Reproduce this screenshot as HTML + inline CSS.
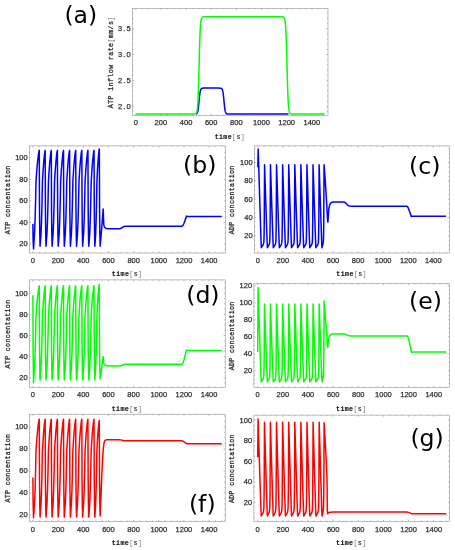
<!DOCTYPE html>
<html><head><meta charset="utf-8"><title>ATP / ADP concentration</title>
<style>html,body{margin:0;padding:0;background:#fff}svg{display:block}</style>
</head><body>
<svg width="455" height="550" viewBox="0 0 455 550">
<rect width="455" height="550" fill="#fff"/>
<g>
<clipPath id="clipa"><rect x="132.4" y="8.3" width="195.6" height="107.1"/></clipPath>
<path d="M195.93 113.92 L196.31 113.80 L196.62 113.62 L196.88 113.40 L197.13 113.07 L197.32 112.73 L197.50 112.27 L197.69 111.68 L197.88 110.91 L198.20 109.16 L198.51 106.75 L199.52 96.54 L199.96 92.99 L200.21 91.54 L200.52 90.26 L200.84 89.42 L201.03 89.08 L201.22 88.82 L201.53 88.53 L201.97 88.30 L202.47 88.18 L203.23 88.12 L205.18 88.09 L217.82 88.09 L220.09 88.13 L220.72 88.20 L221.16 88.33 L221.53 88.53 L221.85 88.82 L222.16 89.30 L222.41 89.88 L222.66 90.71 L222.85 91.54 L223.11 92.99 L223.29 94.36 L223.61 97.14 L224.49 106.19 L224.80 108.73 L225.06 110.28 L225.24 111.18 L225.43 111.89 L225.62 112.44 L225.81 112.85 L226.00 113.17 L226.25 113.46 L226.56 113.70 L226.88 113.85 L227.32 113.96 L227.82 114.01 L229.65 114.06 L288.52 114.06" fill="none" stroke="#0000ff" stroke-width="1.5" stroke-linejoin="round" stroke-linecap="butt" clip-path="url(#clipa)"/>
<path d="M135.80 114.06 L193.35 114.05 L194.49 114.01 L195.18 113.91 L195.68 113.71 L195.93 113.53 L196.12 113.34 L196.44 112.85 L196.75 112.04 L197.00 111.03 L197.19 109.97 L197.38 108.55 L197.57 106.68 L197.76 104.25 L197.95 101.13 L198.26 94.10 L198.51 86.69 L199.52 48.45 L199.96 35.16 L200.21 29.73 L200.52 24.92 L200.71 22.88 L200.90 21.32 L201.09 20.15 L201.28 19.28 L201.47 18.62 L201.66 18.14 L201.85 17.79 L202.10 17.45 L202.35 17.23 L202.66 17.06 L202.98 16.95 L203.42 16.87 L204.17 16.82 L205.49 16.80 L221.28 16.80 L280.91 16.81 L282.11 16.84 L282.86 16.93 L283.36 17.09 L283.62 17.24 L283.80 17.39 L283.99 17.60 L284.18 17.87 L284.50 18.55 L284.75 19.39 L285.00 20.61 L285.19 21.87 L285.38 23.53 L285.56 25.66 L285.75 28.39 L286.07 34.54 L286.38 42.96 L286.70 53.52 L287.51 83.91 L287.77 91.55 L288.02 97.72 L288.33 103.45 L288.52 105.97 L288.71 107.94 L288.90 109.45 L289.09 110.60 L289.34 111.71 L289.59 112.47 L289.78 112.88 L289.97 113.18 L290.22 113.47 L290.47 113.66 L290.79 113.82 L291.10 113.91 L291.54 113.99 L292.11 114.03 L294.56 114.06 L324.50 114.06" fill="none" stroke="#00ff00" stroke-width="1.5" stroke-linejoin="round" stroke-linecap="butt" clip-path="url(#clipa)"/>
<rect x="132.4" y="8.3" width="195.6" height="107.1" fill="none" stroke="#8a8a8a" stroke-width="0.55"/>
<path d="M135.80 115.4v-1.6M135.80 8.3v1.6M142.09 115.4v-0.9M142.09 8.3v0.9M148.38 115.4v-0.9M148.38 8.3v0.9M154.67 115.4v-0.9M154.67 8.3v0.9M160.96 115.4v-1.6M160.96 8.3v1.6M167.25 115.4v-0.9M167.25 8.3v0.9M173.54 115.4v-0.9M173.54 8.3v0.9M179.83 115.4v-0.9M179.83 8.3v0.9M186.12 115.4v-1.6M186.12 8.3v1.6M192.41 115.4v-0.9M192.41 8.3v0.9M198.70 115.4v-0.9M198.70 8.3v0.9M204.99 115.4v-0.9M204.99 8.3v0.9M211.28 115.4v-1.6M211.28 8.3v1.6M217.57 115.4v-0.9M217.57 8.3v0.9M223.86 115.4v-0.9M223.86 8.3v0.9M230.15 115.4v-0.9M230.15 8.3v0.9M236.44 115.4v-1.6M236.44 8.3v1.6M242.73 115.4v-0.9M242.73 8.3v0.9M249.02 115.4v-0.9M249.02 8.3v0.9M255.31 115.4v-0.9M255.31 8.3v0.9M261.60 115.4v-1.6M261.60 8.3v1.6M267.89 115.4v-0.9M267.89 8.3v0.9M274.18 115.4v-0.9M274.18 8.3v0.9M280.47 115.4v-0.9M280.47 8.3v0.9M286.76 115.4v-1.6M286.76 8.3v1.6M293.05 115.4v-0.9M293.05 8.3v0.9M299.34 115.4v-0.9M299.34 8.3v0.9M305.63 115.4v-0.9M305.63 8.3v0.9M311.92 115.4v-1.6M311.92 8.3v1.6M318.21 115.4v-0.9M318.21 8.3v0.9M324.50 115.4v-0.9M324.50 8.3v0.9M132.4 111.47h0.9M328.0 111.47h-0.9M132.4 106.30h1.6M328.0 106.30h-1.6M132.4 101.13h0.9M328.0 101.13h-0.9M132.4 95.95h0.9M328.0 95.95h-0.9M132.4 90.78h0.9M328.0 90.78h-0.9M132.4 85.61h0.9M328.0 85.61h-0.9M132.4 80.43h1.6M328.0 80.43h-1.6M132.4 75.26h0.9M328.0 75.26h-0.9M132.4 70.09h0.9M328.0 70.09h-0.9M132.4 64.91h0.9M328.0 64.91h-0.9M132.4 59.74h0.9M328.0 59.74h-0.9M132.4 54.57h1.6M328.0 54.57h-1.6M132.4 49.39h0.9M328.0 49.39h-0.9M132.4 44.22h0.9M328.0 44.22h-0.9M132.4 39.05h0.9M328.0 39.05h-0.9M132.4 33.87h0.9M328.0 33.87h-0.9M132.4 28.70h1.6M328.0 28.70h-1.6M132.4 23.53h0.9M328.0 23.53h-0.9M132.4 18.35h0.9M328.0 18.35h-0.9M132.4 13.18h0.9M328.0 13.18h-0.9" stroke="#8a8a8a" stroke-width="0.6" fill="none"/>
<text x="135.78" y="125.20" text-anchor="middle" font-family="'Liberation Sans', sans-serif" font-size="7.5" fill="#303030" stroke="#303030" stroke-width="0.25">0</text>
<text x="156.69 160.89 165.09" y="125.20" text-anchor="middle" font-family="'Liberation Sans', sans-serif" font-size="7.5" fill="#303030" stroke="#303030" stroke-width="0.25">200</text>
<text x="181.84 186.05 190.25" y="125.20" text-anchor="middle" font-family="'Liberation Sans', sans-serif" font-size="7.5" fill="#303030" stroke="#303030" stroke-width="0.25">400</text>
<text x="207.01 211.21 215.41" y="125.20" text-anchor="middle" font-family="'Liberation Sans', sans-serif" font-size="7.5" fill="#303030" stroke="#303030" stroke-width="0.25">600</text>
<text x="232.16 236.37 240.56" y="125.20" text-anchor="middle" font-family="'Liberation Sans', sans-serif" font-size="7.5" fill="#303030" stroke="#303030" stroke-width="0.25">800</text>
<text x="255.20 259.40 263.60 267.80" y="125.20" text-anchor="middle" font-family="'Liberation Sans', sans-serif" font-size="7.5" fill="#303030" stroke="#303030" stroke-width="0.25">1000</text>
<text x="280.36 284.56 288.76 292.96" y="125.20" text-anchor="middle" font-family="'Liberation Sans', sans-serif" font-size="7.5" fill="#303030" stroke="#303030" stroke-width="0.25">1200</text>
<text x="305.52 309.72 313.92 318.12" y="125.20" text-anchor="middle" font-family="'Liberation Sans', sans-serif" font-size="7.5" fill="#303030" stroke="#303030" stroke-width="0.25">1400</text>
<text x="120.10 124.30 128.50" y="108.70" text-anchor="middle" font-family="'Liberation Sans', sans-serif" font-size="7.5" fill="#303030" stroke="#303030" stroke-width="0.25">2.0</text>
<text x="120.10 124.30 128.50" y="82.83" text-anchor="middle" font-family="'Liberation Sans', sans-serif" font-size="7.5" fill="#303030" stroke="#303030" stroke-width="0.25">2.5</text>
<text x="120.10 124.30 128.50" y="56.97" text-anchor="middle" font-family="'Liberation Sans', sans-serif" font-size="7.5" fill="#303030" stroke="#303030" stroke-width="0.25">3.0</text>
<text x="120.10 124.30 128.50" y="31.10" text-anchor="middle" font-family="'Liberation Sans', sans-serif" font-size="7.5" fill="#303030" stroke="#303030" stroke-width="0.25">3.5</text>
<text x="229.9" y="139.3" text-anchor="middle" font-family="'Liberation Mono', monospace" font-size="6.6" letter-spacing="0.4" fill="#222"><tspan font-weight="bold" stroke="#222" stroke-width="0.15">time</tspan><tspan fill="#777">[</tspan><tspan fill="#222" stroke="#222" stroke-width="0.15">s</tspan><tspan fill="#777">]</tspan></text>
<text transform="translate(113.2 62.2) rotate(-90)" text-anchor="middle" font-family="'Liberation Mono', monospace" font-size="6.6" letter-spacing="0.42" fill="#303030" stroke="#303030" stroke-width="0.3">ATP inflow rate<tspan fill="#777" stroke="none">[</tspan>mm/s<tspan fill="#777" stroke="none">]</tspan></text>
<text x="64.4" y="22.5" font-family="'DejaVu Sans', 'Liberation Sans', sans-serif" font-size="23.6" fill="#000">(a)</text>
</g>
<g>
<clipPath id="clipb"><rect x="29.5" y="145.9" width="195.8" height="107.1"/></clipPath>
<path d="M32.90 223.87 L33.09 238.92 L33.53 248.95 L34.47 234.06 L35.04 221.14 L35.54 203.04 L35.99 181.58 L36.80 170.28 L37.62 161.13 L38.44 154.35 L39.01 151.09 L39.26 150.37 L39.51 210.14 L39.76 232.70 L40.08 246.15 L40.96 234.45 L41.53 221.03 L41.97 204.45 L42.41 182.41 L42.47 180.81 L43.10 170.48 L43.79 161.24 L44.49 154.39 L44.93 151.34 L44.99 151.01 L45.18 150.37 L45.43 210.14 L45.68 232.70 L46.00 246.15 L46.94 233.85 L47.51 220.82 L48.01 202.13 L48.45 181.22 L49.15 170.26 L49.84 161.39 L50.59 154.21 L51.03 151.28 L51.29 150.37 L51.54 210.14 L51.79 232.70 L52.10 246.15 L53.05 233.85 L53.62 220.82 L54.12 202.13 L54.56 181.22 L55.25 170.26 L55.95 161.39 L56.70 154.21 L57.14 151.28 L57.39 150.37 L57.65 210.14 L57.90 232.70 L58.21 246.15 L59.16 233.85 L59.72 220.82 L60.23 202.13 L60.67 181.22 L61.36 170.26 L62.05 161.39 L62.81 154.21 L63.25 151.28 L63.50 150.37 L63.75 210.14 L64.01 232.70 L64.32 246.15 L65.26 233.85 L65.83 220.82 L66.34 202.13 L66.78 181.22 L67.47 170.26 L68.16 161.39 L68.92 154.21 L69.36 151.28 L69.61 150.37 L69.86 210.14 L70.11 232.70 L70.43 246.15 L71.37 233.85 L71.94 220.82 L72.44 202.13 L72.88 181.22 L73.58 170.26 L74.27 161.39 L75.02 154.21 L75.47 151.28 L75.72 150.37 L75.97 210.14 L76.22 232.70 L76.54 246.15 L77.48 233.85 L78.05 220.82 L78.55 202.13 L78.99 181.22 L79.68 170.26 L80.38 161.39 L81.13 154.21 L81.57 151.28 L81.83 150.37 L82.08 210.14 L82.33 232.70 L82.64 246.15 L83.59 233.85 L84.15 220.82 L84.66 202.13 L85.10 181.22 L85.79 170.26 L86.48 161.39 L87.24 154.21 L87.68 151.28 L87.93 150.37 L88.18 210.14 L88.44 232.70 L88.75 246.15 L89.70 233.85 L90.26 220.82 L90.77 202.13 L91.21 181.22 L91.90 170.26 L92.59 161.39 L93.35 154.21 L93.79 151.28 L94.04 150.37 L94.29 210.14 L94.54 232.70 L94.86 246.15 L95.61 234.71 L96.12 221.31 L96.56 202.30 L96.94 181.16 L97.50 170.07 L98.13 160.09 L98.76 152.82 L99.14 149.74 L99.33 148.97 L99.58 209.56 L99.83 232.16 L100.15 246.15 L101.53 230.55 L103.17 209.09 L103.23 209.37 L103.30 210.74 L103.49 217.84 L103.74 223.71 L103.80 224.43 L104.18 226.38 L104.24 226.56 L104.93 227.73 L106.13 228.46 L106.26 228.51 L108.46 228.72 L119.04 228.72 L119.67 228.67 L120.36 228.52 L120.93 228.28 L121.43 228.00 L122.82 227.10 L123.38 226.80 L123.89 226.58 L124.39 226.41 L124.89 226.28 L125.46 226.19 L126.09 226.14 L181.82 226.13 L182.07 226.08 L182.26 225.99 L182.45 225.86 L182.70 225.62 L183.14 225.02 L183.64 224.07 L184.08 222.99 L186.41 216.62 L186.48 216.06 L186.79 216.24 L187.23 216.36 L187.80 216.42 L188.62 216.44 L221.80 216.45" fill="none" stroke="#0000ff" stroke-width="1.5" stroke-linejoin="round" stroke-linecap="butt" clip-path="url(#clipb)"/>
<rect x="29.5" y="145.9" width="195.8" height="107.1" fill="none" stroke="#8a8a8a" stroke-width="0.55"/>
<path d="M32.90 253.0v-1.6M32.90 145.9v1.6M39.20 253.0v-0.9M39.20 145.9v0.9M45.49 253.0v-0.9M45.49 145.9v0.9M51.79 253.0v-0.9M51.79 145.9v0.9M58.09 253.0v-1.6M58.09 145.9v1.6M64.38 253.0v-0.9M64.38 145.9v0.9M70.68 253.0v-0.9M70.68 145.9v0.9M76.98 253.0v-0.9M76.98 145.9v0.9M83.27 253.0v-1.6M83.27 145.9v1.6M89.57 253.0v-0.9M89.57 145.9v0.9M95.87 253.0v-0.9M95.87 145.9v0.9M102.16 253.0v-0.9M102.16 145.9v0.9M108.46 253.0v-1.6M108.46 145.9v1.6M114.76 253.0v-0.9M114.76 145.9v0.9M121.05 253.0v-0.9M121.05 145.9v0.9M127.35 253.0v-0.9M127.35 145.9v0.9M133.65 253.0v-1.6M133.65 145.9v1.6M139.94 253.0v-0.9M139.94 145.9v0.9M146.24 253.0v-0.9M146.24 145.9v0.9M152.54 253.0v-0.9M152.54 145.9v0.9M158.83 253.0v-1.6M158.83 145.9v1.6M165.13 253.0v-0.9M165.13 145.9v0.9M171.43 253.0v-0.9M171.43 145.9v0.9M177.72 253.0v-0.9M177.72 145.9v0.9M184.02 253.0v-1.6M184.02 145.9v1.6M190.32 253.0v-0.9M190.32 145.9v0.9M196.61 253.0v-0.9M196.61 145.9v0.9M202.91 253.0v-0.9M202.91 145.9v0.9M209.21 253.0v-1.6M209.21 145.9v1.6M215.50 253.0v-0.9M215.50 145.9v0.9M221.80 253.0v-0.9M221.80 145.9v0.9M29.5 249.38h0.9M225.3 249.38h-0.9M29.5 244.00h1.6M225.3 244.00h-1.6M29.5 238.62h0.9M225.3 238.62h-0.9M29.5 233.24h0.9M225.3 233.24h-0.9M29.5 227.86h0.9M225.3 227.86h-0.9M29.5 222.47h1.6M225.3 222.47h-1.6M29.5 217.09h0.9M225.3 217.09h-0.9M29.5 211.71h0.9M225.3 211.71h-0.9M29.5 206.33h0.9M225.3 206.33h-0.9M29.5 200.95h1.6M225.3 200.95h-1.6M29.5 195.57h0.9M225.3 195.57h-0.9M29.5 190.19h0.9M225.3 190.19h-0.9M29.5 184.81h0.9M225.3 184.81h-0.9M29.5 179.43h1.6M225.3 179.43h-1.6M29.5 174.04h0.9M225.3 174.04h-0.9M29.5 168.66h0.9M225.3 168.66h-0.9M29.5 163.28h0.9M225.3 163.28h-0.9M29.5 157.90h1.6M225.3 157.90h-1.6M29.5 152.52h0.9M225.3 152.52h-0.9M29.5 147.14h0.9M225.3 147.14h-0.9" stroke="#8a8a8a" stroke-width="0.6" fill="none"/>
<text x="32.90" y="262.9" text-anchor="middle" font-family="'Liberation Sans', sans-serif" font-size="7.5" fill="#303030" stroke="#303030" stroke-width="0.25">0</text>
<text x="58.09" y="262.9" text-anchor="middle" font-family="'Liberation Sans', sans-serif" font-size="7.5" fill="#303030" stroke="#303030" stroke-width="0.25">200</text>
<text x="83.27" y="262.9" text-anchor="middle" font-family="'Liberation Sans', sans-serif" font-size="7.5" fill="#303030" stroke="#303030" stroke-width="0.25">400</text>
<text x="108.46" y="262.9" text-anchor="middle" font-family="'Liberation Sans', sans-serif" font-size="7.5" fill="#303030" stroke="#303030" stroke-width="0.25">600</text>
<text x="133.65" y="262.9" text-anchor="middle" font-family="'Liberation Sans', sans-serif" font-size="7.5" fill="#303030" stroke="#303030" stroke-width="0.25">800</text>
<text x="158.83" y="262.9" text-anchor="middle" font-family="'Liberation Sans', sans-serif" font-size="7.5" fill="#303030" stroke="#303030" stroke-width="0.25">1000</text>
<text x="184.02" y="262.9" text-anchor="middle" font-family="'Liberation Sans', sans-serif" font-size="7.5" fill="#303030" stroke="#303030" stroke-width="0.25">1200</text>
<text x="209.21" y="262.9" text-anchor="middle" font-family="'Liberation Sans', sans-serif" font-size="7.5" fill="#303030" stroke="#303030" stroke-width="0.25">1400</text>
<text x="27.7" y="246.40" text-anchor="end" font-family="'Liberation Sans', sans-serif" font-size="7.5" fill="#303030" stroke="#303030" stroke-width="0.25">20</text>
<text x="27.7" y="224.88" text-anchor="end" font-family="'Liberation Sans', sans-serif" font-size="7.5" fill="#303030" stroke="#303030" stroke-width="0.25">40</text>
<text x="27.7" y="203.35" text-anchor="end" font-family="'Liberation Sans', sans-serif" font-size="7.5" fill="#303030" stroke="#303030" stroke-width="0.25">60</text>
<text x="27.7" y="181.83" text-anchor="end" font-family="'Liberation Sans', sans-serif" font-size="7.5" fill="#303030" stroke="#303030" stroke-width="0.25">80</text>
<text x="27.7" y="160.30" text-anchor="end" font-family="'Liberation Sans', sans-serif" font-size="7.5" fill="#303030" stroke="#303030" stroke-width="0.25">100</text>
<text x="127.1" y="276.0" text-anchor="middle" font-family="'Liberation Mono', monospace" font-size="6.6" letter-spacing="0.4" fill="#222"><tspan font-weight="bold" stroke="#222" stroke-width="0.15">time</tspan><tspan fill="#777">[</tspan><tspan fill="#222" stroke="#222" stroke-width="0.15">s</tspan><tspan fill="#777">]</tspan></text>
<text transform="translate(10.1 199.8) rotate(-90)" text-anchor="middle" font-family="'Liberation Mono', monospace" font-size="6.6" letter-spacing="0.35" fill="#303030" stroke="#303030" stroke-width="0.3">ATP concentation</text>
<text x="183.1" y="172.7" font-family="'DejaVu Sans', 'Liberation Sans', sans-serif" font-size="23.6" fill="#000">(b)</text>
</g>
<g>
<clipPath id="clipc"><rect x="254.4" y="145.9" width="195.0" height="107.1"/></clipPath>
<path d="M257.80 167.17 L258.18 148.88 L260.25 216.57 L261.06 241.27 L261.31 247.70 L263.25 244.68 L263.76 242.66 L264.01 238.92 L264.20 226.65 L264.26 219.71 L264.57 164.70 L266.14 212.89 L266.70 229.46 L267.14 241.61 L267.39 247.70 L269.15 244.68 L269.65 242.66 L269.90 238.92 L270.09 226.65 L270.15 219.71 L270.47 164.70 L272.03 212.89 L272.60 229.46 L273.04 241.61 L273.29 247.70 L275.23 244.68 L275.73 242.66 L275.98 238.92 L276.17 226.65 L276.23 219.71 L276.55 164.70 L278.49 223.95 L279.12 241.61 L279.37 247.70 L281.31 244.68 L281.81 242.66 L282.06 238.92 L282.25 226.65 L282.32 219.71 L282.63 164.70 L284.38 218.42 L285.20 241.61 L285.45 247.70 L287.39 244.68 L287.90 242.66 L288.15 238.92 L288.33 226.65 L288.40 219.71 L288.71 164.70 L290.28 212.89 L290.84 229.46 L291.28 241.61 L291.53 247.70 L293.48 244.68 L293.98 242.66 L294.23 238.92 L294.42 226.65 L294.48 219.71 L294.79 164.70 L296.67 222.11 L297.36 241.61 L297.61 247.70 L299.56 244.68 L300.06 242.66 L300.31 238.92 L300.50 226.65 L300.56 219.71 L300.87 164.70 L302.63 218.42 L303.45 241.61 L303.70 247.70 L305.64 244.68 L306.14 242.66 L306.39 238.92 L306.58 226.65 L306.64 219.71 L306.96 164.70 L308.46 211.04 L309.09 229.46 L309.53 241.61 L309.78 247.70 L311.72 244.68 L312.22 242.66 L312.47 238.92 L312.66 226.65 L312.73 219.71 L313.04 164.70 L314.98 223.95 L315.61 241.61 L315.86 247.70 L317.80 244.68 L318.31 242.66 L318.56 238.92 L318.74 226.65 L318.81 219.71 L319.12 164.70 L320.81 216.57 L321.69 241.61 L321.94 247.70 L322.76 244.68 L323.26 242.66 L323.51 238.92 L323.70 226.65 L323.76 219.71 L324.07 164.70 L325.27 180.90 L326.46 200.07 L327.40 216.42 L327.71 221.16 L327.77 221.76 L327.84 222.04 L327.90 222.01 L327.96 221.66 L328.02 221.00 L328.46 213.38 L328.71 210.34 L328.90 208.70 L329.09 207.46 L329.28 206.53 L329.47 205.82 L329.72 205.04 L330.09 204.14 L330.34 203.71 L330.91 202.99 L331.10 202.83 L331.72 202.43 L331.97 202.30 L333.10 201.99 L333.42 201.95 L343.07 201.94 L343.51 201.97 L343.95 202.05 L344.51 202.25 L345.20 202.70 L345.64 203.08 L347.40 204.82 L347.84 205.18 L348.28 205.47 L348.84 205.75 L349.34 205.91 L350.09 206.07 L350.85 206.14 L406.65 206.16 L406.84 206.21 L407.09 206.35 L407.34 206.56 L407.53 206.76 L407.97 207.42 L408.41 208.30 L408.84 209.42 L411.16 216.04 L411.23 216.52 L411.54 216.38 L411.98 216.29 L413.36 216.22 L445.90 216.22" fill="none" stroke="#0000ff" stroke-width="1.5" stroke-linejoin="round" stroke-linecap="butt" clip-path="url(#clipc)"/>
<rect x="254.4" y="145.9" width="195.0" height="107.1" fill="none" stroke="#8a8a8a" stroke-width="0.55"/>
<path d="M257.80 253.0v-1.6M257.80 145.9v1.6M264.07 253.0v-0.9M264.07 145.9v0.9M270.34 253.0v-0.9M270.34 145.9v0.9M276.61 253.0v-0.9M276.61 145.9v0.9M282.88 253.0v-1.6M282.88 145.9v1.6M289.15 253.0v-0.9M289.15 145.9v0.9M295.42 253.0v-0.9M295.42 145.9v0.9M301.69 253.0v-0.9M301.69 145.9v0.9M307.96 253.0v-1.6M307.96 145.9v1.6M314.23 253.0v-0.9M314.23 145.9v0.9M320.50 253.0v-0.9M320.50 145.9v0.9M326.77 253.0v-0.9M326.77 145.9v0.9M333.04 253.0v-1.6M333.04 145.9v1.6M339.31 253.0v-0.9M339.31 145.9v0.9M345.58 253.0v-0.9M345.58 145.9v0.9M351.85 253.0v-0.9M351.85 145.9v0.9M358.12 253.0v-1.6M358.12 145.9v1.6M364.39 253.0v-0.9M364.39 145.9v0.9M370.66 253.0v-0.9M370.66 145.9v0.9M376.93 253.0v-0.9M376.93 145.9v0.9M383.20 253.0v-1.6M383.20 145.9v1.6M389.47 253.0v-0.9M389.47 145.9v0.9M395.74 253.0v-0.9M395.74 145.9v0.9M402.01 253.0v-0.9M402.01 145.9v0.9M408.28 253.0v-1.6M408.28 145.9v1.6M414.55 253.0v-0.9M414.55 145.9v0.9M420.82 253.0v-0.9M420.82 145.9v0.9M427.09 253.0v-0.9M427.09 145.9v0.9M433.36 253.0v-1.6M433.36 145.9v1.6M439.63 253.0v-0.9M439.63 145.9v0.9M445.90 253.0v-0.9M445.90 145.9v0.9M254.4 249.53h0.9M449.4 249.53h-0.9M254.4 244.95h0.9M449.4 244.95h-0.9M254.4 240.38h0.9M449.4 240.38h-0.9M254.4 235.80h1.6M449.4 235.80h-1.6M254.4 231.23h0.9M449.4 231.23h-0.9M254.4 226.65h0.9M449.4 226.65h-0.9M254.4 222.08h0.9M449.4 222.08h-0.9M254.4 217.50h1.6M449.4 217.50h-1.6M254.4 212.93h0.9M449.4 212.93h-0.9M254.4 208.35h0.9M449.4 208.35h-0.9M254.4 203.78h0.9M449.4 203.78h-0.9M254.4 199.20h1.6M449.4 199.20h-1.6M254.4 194.62h0.9M449.4 194.62h-0.9M254.4 190.05h0.9M449.4 190.05h-0.9M254.4 185.47h0.9M449.4 185.47h-0.9M254.4 180.90h1.6M449.4 180.90h-1.6M254.4 176.32h0.9M449.4 176.32h-0.9M254.4 171.75h0.9M449.4 171.75h-0.9M254.4 167.17h0.9M449.4 167.17h-0.9M254.4 162.60h1.6M449.4 162.60h-1.6M254.4 158.03h0.9M449.4 158.03h-0.9M254.4 153.45h0.9M449.4 153.45h-0.9M254.4 148.88h0.9M449.4 148.88h-0.9" stroke="#8a8a8a" stroke-width="0.6" fill="none"/>
<text x="257.80" y="262.9" text-anchor="middle" font-family="'Liberation Sans', sans-serif" font-size="7.5" fill="#303030" stroke="#303030" stroke-width="0.25">0</text>
<text x="282.88" y="262.9" text-anchor="middle" font-family="'Liberation Sans', sans-serif" font-size="7.5" fill="#303030" stroke="#303030" stroke-width="0.25">200</text>
<text x="307.96" y="262.9" text-anchor="middle" font-family="'Liberation Sans', sans-serif" font-size="7.5" fill="#303030" stroke="#303030" stroke-width="0.25">400</text>
<text x="333.04" y="262.9" text-anchor="middle" font-family="'Liberation Sans', sans-serif" font-size="7.5" fill="#303030" stroke="#303030" stroke-width="0.25">600</text>
<text x="358.12" y="262.9" text-anchor="middle" font-family="'Liberation Sans', sans-serif" font-size="7.5" fill="#303030" stroke="#303030" stroke-width="0.25">800</text>
<text x="383.20" y="262.9" text-anchor="middle" font-family="'Liberation Sans', sans-serif" font-size="7.5" fill="#303030" stroke="#303030" stroke-width="0.25">1000</text>
<text x="408.28" y="262.9" text-anchor="middle" font-family="'Liberation Sans', sans-serif" font-size="7.5" fill="#303030" stroke="#303030" stroke-width="0.25">1200</text>
<text x="433.36" y="262.9" text-anchor="middle" font-family="'Liberation Sans', sans-serif" font-size="7.5" fill="#303030" stroke="#303030" stroke-width="0.25">1400</text>
<text x="252.6" y="238.20" text-anchor="end" font-family="'Liberation Sans', sans-serif" font-size="7.5" fill="#303030" stroke="#303030" stroke-width="0.25">20</text>
<text x="252.6" y="219.90" text-anchor="end" font-family="'Liberation Sans', sans-serif" font-size="7.5" fill="#303030" stroke="#303030" stroke-width="0.25">40</text>
<text x="252.6" y="201.60" text-anchor="end" font-family="'Liberation Sans', sans-serif" font-size="7.5" fill="#303030" stroke="#303030" stroke-width="0.25">60</text>
<text x="252.6" y="183.30" text-anchor="end" font-family="'Liberation Sans', sans-serif" font-size="7.5" fill="#303030" stroke="#303030" stroke-width="0.25">80</text>
<text x="252.6" y="165.00" text-anchor="end" font-family="'Liberation Sans', sans-serif" font-size="7.5" fill="#303030" stroke="#303030" stroke-width="0.25">100</text>
<text x="351.6" y="276.0" text-anchor="middle" font-family="'Liberation Mono', monospace" font-size="6.6" letter-spacing="0.4" fill="#222"><tspan font-weight="bold" stroke="#222" stroke-width="0.15">time</tspan><tspan fill="#777">[</tspan><tspan fill="#222" stroke="#222" stroke-width="0.15">s</tspan><tspan fill="#777">]</tspan></text>
<text transform="translate(233.8 199.8) rotate(-90)" text-anchor="middle" font-family="'Liberation Mono', monospace" font-size="6.6" letter-spacing="0.35" fill="#303030" stroke="#303030" stroke-width="0.3">ADP concentation</text>
<text x="409.1" y="173.8" font-family="'DejaVu Sans', 'Liberation Sans', sans-serif" font-size="23.6" fill="#000">(c)</text>
</g>
<g>
<clipPath id="clipd"><rect x="29.5" y="279.9" width="195.7" height="107.4"/></clipPath>
<path d="M32.90 295.31 L33.09 347.72 L33.53 382.66 L34.47 368.03 L35.04 355.34 L35.54 337.55 L35.98 316.46 L36.80 305.36 L37.62 296.37 L38.44 289.71 L39.00 286.51 L39.26 285.80 L39.51 344.53 L39.76 366.70 L40.07 379.92 L40.96 368.41 L41.52 355.23 L41.96 338.94 L42.40 317.28 L42.47 315.71 L43.10 305.56 L43.79 296.48 L44.48 289.75 L44.92 286.75 L44.98 286.43 L45.17 285.80 L45.42 344.53 L45.68 366.70 L45.99 379.92 L46.93 367.83 L47.50 355.02 L48.00 336.66 L48.44 316.11 L49.14 305.35 L49.83 296.63 L50.58 289.57 L51.02 286.69 L51.28 285.80 L51.53 344.53 L51.78 366.70 L52.09 379.92 L53.04 367.83 L53.61 355.02 L54.11 336.66 L54.55 316.11 L55.24 305.35 L55.93 296.63 L56.69 289.57 L57.13 286.69 L57.38 285.80 L57.63 344.53 L57.88 366.70 L58.20 379.92 L59.14 367.83 L59.71 355.02 L60.21 336.66 L60.65 316.11 L61.35 305.35 L62.04 296.63 L62.79 289.57 L63.23 286.69 L63.49 285.80 L63.74 344.53 L63.99 366.70 L64.30 379.92 L65.25 367.83 L65.81 355.02 L66.32 336.66 L66.76 316.11 L67.45 305.35 L68.14 296.63 L68.90 289.57 L69.34 286.69 L69.59 285.80 L69.84 344.53 L70.09 366.70 L70.41 379.92 L71.35 367.83 L71.92 355.02 L72.42 336.66 L72.86 316.11 L73.55 305.35 L74.25 296.63 L75.00 289.57 L75.44 286.69 L75.69 285.80 L75.95 344.53 L76.20 366.70 L76.51 379.92 L77.46 367.83 L78.02 355.02 L78.53 336.66 L78.97 316.11 L79.66 305.35 L80.35 296.63 L81.11 289.57 L81.55 286.69 L81.80 285.80 L82.05 344.53 L82.30 366.70 L82.62 379.92 L83.56 367.83 L84.13 355.02 L84.63 336.66 L85.07 316.11 L85.76 305.35 L86.46 296.63 L87.21 289.57 L87.65 286.69 L87.90 285.80 L88.16 344.53 L88.41 366.70 L88.72 379.92 L89.67 367.83 L90.23 355.02 L90.74 336.66 L91.18 316.11 L91.87 305.35 L92.56 296.63 L93.32 289.57 L93.76 286.69 L94.01 285.80 L94.26 344.53 L94.51 366.70 L94.83 379.92 L95.58 368.67 L96.09 355.50 L96.53 336.83 L96.90 316.05 L97.47 305.16 L98.10 295.35 L98.73 288.21 L99.11 285.18 L99.29 284.42 L99.55 343.96 L99.80 366.17 L100.11 378.86 L101.50 369.34 L103.13 356.71 L103.20 356.78 L103.26 357.39 L103.51 361.41 L103.64 362.47 L103.76 363.18 L104.14 364.23 L104.20 364.33 L104.83 365.04 L104.96 365.14 L106.09 365.71 L106.22 365.75 L108.48 365.96 L119.43 365.94 L120.13 365.85 L120.75 365.69 L121.38 365.47 L123.15 364.78 L124.22 364.45 L125.22 364.24 L126.17 364.16 L181.74 364.16 L181.93 364.11 L182.18 363.95 L182.43 363.70 L182.62 363.44 L183.06 362.61 L183.50 361.46 L184.00 359.77 L186.33 350.86 L186.39 350.22 L186.71 350.40 L187.15 350.53 L187.72 350.59 L188.53 350.62 L221.70 350.62" fill="none" stroke="#00ff00" stroke-width="1.5" stroke-linejoin="round" stroke-linecap="butt" clip-path="url(#clipd)"/>
<rect x="29.5" y="279.9" width="195.7" height="107.4" fill="none" stroke="#8a8a8a" stroke-width="0.55"/>
<path d="M32.90 387.3v-1.6M32.90 279.9v1.6M39.19 387.3v-0.9M39.19 279.9v0.9M45.49 387.3v-0.9M45.49 279.9v0.9M51.78 387.3v-0.9M51.78 279.9v0.9M58.07 387.3v-1.6M58.07 279.9v1.6M64.37 387.3v-0.9M64.37 279.9v0.9M70.66 387.3v-0.9M70.66 279.9v0.9M76.95 387.3v-0.9M76.95 279.9v0.9M83.25 387.3v-1.6M83.25 279.9v1.6M89.54 387.3v-0.9M89.54 279.9v0.9M95.83 387.3v-0.9M95.83 279.9v0.9M102.13 387.3v-0.9M102.13 279.9v0.9M108.42 387.3v-1.6M108.42 279.9v1.6M114.71 387.3v-0.9M114.71 279.9v0.9M121.01 387.3v-0.9M121.01 279.9v0.9M127.30 387.3v-0.9M127.30 279.9v0.9M133.59 387.3v-1.6M133.59 279.9v1.6M139.89 387.3v-0.9M139.89 279.9v0.9M146.18 387.3v-0.9M146.18 279.9v0.9M152.47 387.3v-0.9M152.47 279.9v0.9M158.77 387.3v-1.6M158.77 279.9v1.6M165.06 387.3v-0.9M165.06 279.9v0.9M171.35 387.3v-0.9M171.35 279.9v0.9M177.65 387.3v-0.9M177.65 279.9v0.9M183.94 387.3v-1.6M183.94 279.9v1.6M190.23 387.3v-0.9M190.23 279.9v0.9M196.53 387.3v-0.9M196.53 279.9v0.9M202.82 387.3v-0.9M202.82 279.9v0.9M209.11 387.3v-1.6M209.11 279.9v1.6M215.41 387.3v-0.9M215.41 279.9v0.9M221.70 387.3v-0.9M221.70 279.9v0.9M29.5 383.09h0.9M225.2 383.09h-0.9M29.5 377.80h1.6M225.2 377.80h-1.6M29.5 372.51h0.9M225.2 372.51h-0.9M29.5 367.23h0.9M225.2 367.23h-0.9M29.5 361.94h0.9M225.2 361.94h-0.9M29.5 356.65h1.6M225.2 356.65h-1.6M29.5 351.36h0.9M225.2 351.36h-0.9M29.5 346.07h0.9M225.2 346.07h-0.9M29.5 340.79h0.9M225.2 340.79h-0.9M29.5 335.50h1.6M225.2 335.50h-1.6M29.5 330.21h0.9M225.2 330.21h-0.9M29.5 324.93h0.9M225.2 324.93h-0.9M29.5 319.64h0.9M225.2 319.64h-0.9M29.5 314.35h1.6M225.2 314.35h-1.6M29.5 309.06h0.9M225.2 309.06h-0.9M29.5 303.77h0.9M225.2 303.77h-0.9M29.5 298.49h0.9M225.2 298.49h-0.9M29.5 293.20h1.6M225.2 293.20h-1.6M29.5 287.91h0.9M225.2 287.91h-0.9M29.5 282.62h0.9M225.2 282.62h-0.9" stroke="#8a8a8a" stroke-width="0.6" fill="none"/>
<text x="32.90" y="397.3" text-anchor="middle" font-family="'Liberation Sans', sans-serif" font-size="7.5" fill="#303030" stroke="#303030" stroke-width="0.25">0</text>
<text x="58.07" y="397.3" text-anchor="middle" font-family="'Liberation Sans', sans-serif" font-size="7.5" fill="#303030" stroke="#303030" stroke-width="0.25">200</text>
<text x="83.25" y="397.3" text-anchor="middle" font-family="'Liberation Sans', sans-serif" font-size="7.5" fill="#303030" stroke="#303030" stroke-width="0.25">400</text>
<text x="108.42" y="397.3" text-anchor="middle" font-family="'Liberation Sans', sans-serif" font-size="7.5" fill="#303030" stroke="#303030" stroke-width="0.25">600</text>
<text x="133.59" y="397.3" text-anchor="middle" font-family="'Liberation Sans', sans-serif" font-size="7.5" fill="#303030" stroke="#303030" stroke-width="0.25">800</text>
<text x="158.77" y="397.3" text-anchor="middle" font-family="'Liberation Sans', sans-serif" font-size="7.5" fill="#303030" stroke="#303030" stroke-width="0.25">1000</text>
<text x="183.94" y="397.3" text-anchor="middle" font-family="'Liberation Sans', sans-serif" font-size="7.5" fill="#303030" stroke="#303030" stroke-width="0.25">1200</text>
<text x="209.11" y="397.3" text-anchor="middle" font-family="'Liberation Sans', sans-serif" font-size="7.5" fill="#303030" stroke="#303030" stroke-width="0.25">1400</text>
<text x="27.7" y="380.20" text-anchor="end" font-family="'Liberation Sans', sans-serif" font-size="7.5" fill="#303030" stroke="#303030" stroke-width="0.25">20</text>
<text x="27.7" y="359.05" text-anchor="end" font-family="'Liberation Sans', sans-serif" font-size="7.5" fill="#303030" stroke="#303030" stroke-width="0.25">40</text>
<text x="27.7" y="337.90" text-anchor="end" font-family="'Liberation Sans', sans-serif" font-size="7.5" fill="#303030" stroke="#303030" stroke-width="0.25">60</text>
<text x="27.7" y="316.75" text-anchor="end" font-family="'Liberation Sans', sans-serif" font-size="7.5" fill="#303030" stroke="#303030" stroke-width="0.25">80</text>
<text x="27.7" y="295.60" text-anchor="end" font-family="'Liberation Sans', sans-serif" font-size="7.5" fill="#303030" stroke="#303030" stroke-width="0.25">100</text>
<text x="127.0" y="411.0" text-anchor="middle" font-family="'Liberation Mono', monospace" font-size="6.6" letter-spacing="0.4" fill="#222"><tspan font-weight="bold" stroke="#222" stroke-width="0.15">time</tspan><tspan fill="#777">[</tspan><tspan fill="#222" stroke="#222" stroke-width="0.15">s</tspan><tspan fill="#777">]</tspan></text>
<text transform="translate(10.1 334.0) rotate(-90)" text-anchor="middle" font-family="'Liberation Mono', monospace" font-size="6.6" letter-spacing="0.35" fill="#303030" stroke="#303030" stroke-width="0.3">ATP concentation</text>
<text x="186.2" y="302.6" font-family="'DejaVu Sans', 'Liberation Sans', sans-serif" font-size="23.6" fill="#000">(d)</text>
</g>
<g>
<clipPath id="clipe"><rect x="253.9" y="283.5" width="195.5" height="103.8"/></clipPath>
<path d="M257.70 352.10 L258.08 287.50 L259.77 340.81 L260.47 361.51 L260.97 375.72 L261.22 381.85 L263.17 379.05 L263.67 377.18 L263.92 373.70 L264.11 362.30 L264.18 355.77 L264.49 304.07 L265.94 345.77 L266.63 364.76 L267.07 376.14 L267.32 381.85 L269.08 379.05 L269.58 377.18 L269.83 373.70 L270.02 362.30 L270.08 355.77 L270.40 304.07 L272.10 352.68 L272.98 376.14 L273.23 381.85 L275.18 379.05 L275.68 377.18 L275.93 373.70 L276.12 362.30 L276.18 355.77 L276.50 304.07 L278.26 354.41 L279.07 376.14 L279.33 381.85 L281.27 379.05 L281.78 377.18 L282.03 373.70 L282.22 362.30 L282.28 355.77 L282.60 304.07 L284.42 356.14 L285.17 376.14 L285.42 381.85 L287.37 379.05 L287.88 377.18 L288.13 373.70 L288.32 362.30 L288.38 355.77 L288.69 304.07 L290.14 345.77 L290.83 364.76 L291.27 376.14 L291.52 381.85 L293.47 379.05 L293.97 377.18 L294.23 373.70 L294.41 362.30 L294.48 355.77 L294.79 304.07 L296.30 347.50 L296.93 364.76 L297.37 376.14 L297.62 381.85 L299.57 379.05 L300.07 377.18 L300.32 373.70 L300.51 362.30 L300.58 355.77 L300.89 304.07 L302.27 344.01 L302.90 361.33 L303.47 376.14 L303.72 381.85 L305.67 379.05 L306.17 377.18 L306.42 373.70 L306.61 362.30 L306.67 355.77 L306.99 304.07 L308.37 344.01 L309.06 363.05 L309.56 376.14 L309.82 381.85 L311.77 379.05 L312.27 377.18 L312.52 373.70 L312.71 362.30 L312.77 355.77 L313.09 304.07 L314.78 352.68 L315.66 376.14 L315.91 381.85 L317.86 379.05 L318.37 377.18 L318.62 373.70 L318.81 362.30 L318.87 355.77 L319.18 304.07 L320.94 354.41 L321.76 376.14 L322.01 381.85 L322.83 379.05 L323.33 377.18 L323.58 373.70 L323.77 362.30 L323.84 355.39 L324.15 301.10 L324.21 302.80 L325.34 316.40 L326.48 330.96 L327.36 344.12 L327.61 346.88 L327.67 347.26 L327.73 347.41 L327.80 347.33 L327.92 346.49 L328.30 341.43 L328.49 339.71 L328.68 338.55 L328.87 337.78 L329.05 337.16 L329.43 336.33 L329.68 335.88 L330.19 335.19 L330.44 334.91 L331.38 334.27 L331.57 334.20 L332.64 333.92 L343.45 333.91 L344.46 333.97 L344.96 334.07 L345.59 334.29 L347.66 335.32 L348.54 335.67 L348.92 335.77 L349.49 335.87 L350.49 335.94 L406.82 335.95 L407.07 336.01 L407.32 336.20 L407.51 336.41 L407.76 336.81 L408.20 337.80 L408.64 339.17 L409.15 341.19 L411.47 351.81 L411.53 352.42 L411.85 352.27 L412.29 352.17 L412.85 352.12 L413.67 352.10 L446.30 352.10" fill="none" stroke="#00ff00" stroke-width="1.5" stroke-linejoin="round" stroke-linecap="butt" clip-path="url(#clipe)"/>
<rect x="253.9" y="283.5" width="195.5" height="103.8" fill="none" stroke="#8a8a8a" stroke-width="0.55"/>
<path d="M257.70 387.3v-1.6M257.70 283.5v1.6M263.99 387.3v-0.9M263.99 283.5v0.9M270.27 387.3v-0.9M270.27 283.5v0.9M276.56 387.3v-0.9M276.56 283.5v0.9M282.85 387.3v-1.6M282.85 283.5v1.6M289.13 387.3v-0.9M289.13 283.5v0.9M295.42 387.3v-0.9M295.42 283.5v0.9M301.71 387.3v-0.9M301.71 283.5v0.9M307.99 387.3v-1.6M307.99 283.5v1.6M314.28 387.3v-0.9M314.28 283.5v0.9M320.57 387.3v-0.9M320.57 283.5v0.9M326.85 387.3v-0.9M326.85 283.5v0.9M333.14 387.3v-1.6M333.14 283.5v1.6M339.43 387.3v-0.9M339.43 283.5v0.9M345.71 387.3v-0.9M345.71 283.5v0.9M352.00 387.3v-0.9M352.00 283.5v0.9M358.29 387.3v-1.6M358.29 283.5v1.6M364.57 387.3v-0.9M364.57 283.5v0.9M370.86 387.3v-0.9M370.86 283.5v0.9M377.15 387.3v-0.9M377.15 283.5v0.9M383.43 387.3v-1.6M383.43 283.5v1.6M389.72 387.3v-0.9M389.72 283.5v0.9M396.01 387.3v-0.9M396.01 283.5v0.9M402.29 387.3v-0.9M402.29 283.5v0.9M408.58 387.3v-1.6M408.58 283.5v1.6M414.87 387.3v-0.9M414.87 283.5v0.9M421.15 387.3v-0.9M421.15 283.5v0.9M427.44 387.3v-0.9M427.44 283.5v0.9M433.73 387.3v-1.6M433.73 283.5v1.6M440.01 387.3v-0.9M440.01 283.5v0.9M446.30 387.3v-0.9M446.30 283.5v0.9M253.9 383.55h0.9M449.4 383.55h-0.9M253.9 379.30h0.9M449.4 379.30h-0.9M253.9 375.05h0.9M449.4 375.05h-0.9M253.9 370.80h1.6M449.4 370.80h-1.6M253.9 366.55h0.9M449.4 366.55h-0.9M253.9 362.30h0.9M449.4 362.30h-0.9M253.9 358.05h0.9M449.4 358.05h-0.9M253.9 353.80h1.6M449.4 353.80h-1.6M253.9 349.55h0.9M449.4 349.55h-0.9M253.9 345.30h0.9M449.4 345.30h-0.9M253.9 341.05h0.9M449.4 341.05h-0.9M253.9 336.80h1.6M449.4 336.80h-1.6M253.9 332.55h0.9M449.4 332.55h-0.9M253.9 328.30h0.9M449.4 328.30h-0.9M253.9 324.05h0.9M449.4 324.05h-0.9M253.9 319.80h1.6M449.4 319.80h-1.6M253.9 315.55h0.9M449.4 315.55h-0.9M253.9 311.30h0.9M449.4 311.30h-0.9M253.9 307.05h0.9M449.4 307.05h-0.9M253.9 302.80h1.6M449.4 302.80h-1.6M253.9 298.55h0.9M449.4 298.55h-0.9M253.9 294.30h0.9M449.4 294.30h-0.9M253.9 290.05h0.9M449.4 290.05h-0.9M253.9 285.80h1.6M449.4 285.80h-1.6" stroke="#8a8a8a" stroke-width="0.6" fill="none"/>
<text x="257.70" y="397.3" text-anchor="middle" font-family="'Liberation Sans', sans-serif" font-size="7.5" fill="#303030" stroke="#303030" stroke-width="0.25">0</text>
<text x="282.85" y="397.3" text-anchor="middle" font-family="'Liberation Sans', sans-serif" font-size="7.5" fill="#303030" stroke="#303030" stroke-width="0.25">200</text>
<text x="307.99" y="397.3" text-anchor="middle" font-family="'Liberation Sans', sans-serif" font-size="7.5" fill="#303030" stroke="#303030" stroke-width="0.25">400</text>
<text x="333.14" y="397.3" text-anchor="middle" font-family="'Liberation Sans', sans-serif" font-size="7.5" fill="#303030" stroke="#303030" stroke-width="0.25">600</text>
<text x="358.29" y="397.3" text-anchor="middle" font-family="'Liberation Sans', sans-serif" font-size="7.5" fill="#303030" stroke="#303030" stroke-width="0.25">800</text>
<text x="383.43" y="397.3" text-anchor="middle" font-family="'Liberation Sans', sans-serif" font-size="7.5" fill="#303030" stroke="#303030" stroke-width="0.25">1000</text>
<text x="408.58" y="397.3" text-anchor="middle" font-family="'Liberation Sans', sans-serif" font-size="7.5" fill="#303030" stroke="#303030" stroke-width="0.25">1200</text>
<text x="433.73" y="397.3" text-anchor="middle" font-family="'Liberation Sans', sans-serif" font-size="7.5" fill="#303030" stroke="#303030" stroke-width="0.25">1400</text>
<text x="252.1" y="373.20" text-anchor="end" font-family="'Liberation Sans', sans-serif" font-size="7.5" fill="#303030" stroke="#303030" stroke-width="0.25">20</text>
<text x="252.1" y="356.20" text-anchor="end" font-family="'Liberation Sans', sans-serif" font-size="7.5" fill="#303030" stroke="#303030" stroke-width="0.25">40</text>
<text x="252.1" y="339.20" text-anchor="end" font-family="'Liberation Sans', sans-serif" font-size="7.5" fill="#303030" stroke="#303030" stroke-width="0.25">60</text>
<text x="252.1" y="322.20" text-anchor="end" font-family="'Liberation Sans', sans-serif" font-size="7.5" fill="#303030" stroke="#303030" stroke-width="0.25">80</text>
<text x="252.1" y="305.20" text-anchor="end" font-family="'Liberation Sans', sans-serif" font-size="7.5" fill="#303030" stroke="#303030" stroke-width="0.25">100</text>
<text x="252.1" y="288.20" text-anchor="end" font-family="'Liberation Sans', sans-serif" font-size="7.5" fill="#303030" stroke="#303030" stroke-width="0.25">120</text>
<text x="351.3" y="411.0" text-anchor="middle" font-family="'Liberation Mono', monospace" font-size="6.6" letter-spacing="0.4" fill="#222"><tspan font-weight="bold" stroke="#222" stroke-width="0.15">time</tspan><tspan fill="#777">[</tspan><tspan fill="#222" stroke="#222" stroke-width="0.15">s</tspan><tspan fill="#777">]</tspan></text>
<text transform="translate(233.8 335.8) rotate(-90)" text-anchor="middle" font-family="'Liberation Mono', monospace" font-size="6.6" letter-spacing="0.35" fill="#303030" stroke="#303030" stroke-width="0.3">ADP concentation</text>
<text x="409.1" y="308.8" font-family="'DejaVu Sans', 'Liberation Sans', sans-serif" font-size="23.6" fill="#000">(e)</text>
</g>
<g>
<clipPath id="clipf"><rect x="29.5" y="414.2" width="195.7" height="107.1"/></clipPath>
<path d="M32.90 477.54 L33.09 501.61 L33.53 517.65 L34.47 504.75 L35.04 491.56 L35.54 473.08 L35.98 451.17 L36.80 439.64 L37.62 430.30 L38.44 423.37 L39.00 420.05 L39.26 419.31 L39.51 480.33 L39.76 503.36 L40.07 517.10 L40.96 505.15 L41.52 491.45 L41.96 474.52 L42.40 452.02 L42.47 450.39 L43.10 439.84 L43.79 430.41 L44.48 423.42 L44.92 420.30 L44.98 419.97 L45.17 419.31 L45.42 480.33 L45.68 503.36 L45.99 517.10 L46.93 504.54 L47.50 491.23 L48.00 472.15 L48.44 450.81 L49.14 439.62 L49.83 430.56 L50.58 423.23 L51.02 420.24 L51.28 419.31 L51.53 480.33 L51.78 503.36 L52.09 517.10 L53.04 504.54 L53.61 491.23 L54.11 472.15 L54.55 450.81 L55.24 439.62 L55.93 430.56 L56.69 423.23 L57.13 420.24 L57.38 419.31 L57.63 480.33 L57.88 503.36 L58.20 517.10 L59.14 504.54 L59.71 491.23 L60.21 472.15 L60.65 450.81 L61.35 439.62 L62.04 430.56 L62.79 423.23 L63.23 420.24 L63.49 419.31 L63.74 480.33 L63.99 503.36 L64.30 517.10 L65.25 504.54 L65.81 491.23 L66.32 472.15 L66.76 450.81 L67.45 439.62 L68.14 430.56 L68.90 423.23 L69.34 420.24 L69.59 419.31 L69.84 480.33 L70.09 503.36 L70.41 517.10 L71.35 504.54 L71.92 491.23 L72.42 472.15 L72.86 450.81 L73.55 439.62 L74.25 430.56 L75.00 423.23 L75.44 420.24 L75.69 419.31 L75.95 480.33 L76.20 503.36 L76.51 517.10 L77.46 504.54 L78.02 491.23 L78.53 472.15 L78.97 450.81 L79.66 439.62 L80.35 430.56 L81.11 423.23 L81.55 420.24 L81.80 419.31 L82.05 480.33 L82.30 503.36 L82.62 517.10 L83.56 504.54 L84.13 491.23 L84.63 472.15 L85.07 450.81 L85.76 439.62 L86.46 430.56 L87.21 423.23 L87.65 420.24 L87.90 419.31 L88.16 480.33 L88.41 503.36 L88.72 517.10 L89.67 504.54 L90.23 491.23 L90.74 472.15 L91.18 450.81 L91.87 439.62 L92.56 430.56 L93.32 423.23 L93.76 420.24 L94.01 419.31 L94.26 480.33 L94.51 503.36 L94.83 517.10 L95.58 505.41 L96.09 491.73 L96.53 472.33 L96.90 450.78 L97.47 440.32 L98.10 430.90 L98.73 424.05 L99.11 421.13 L99.29 420.41 L99.55 479.74 L99.80 501.71 L100.11 516.00 L100.74 502.81 L101.50 483.08 L101.81 475.74 L102.50 461.34 L103.13 451.06 L103.45 447.46 L103.83 444.44 L104.01 443.23 L104.20 442.46 L104.83 440.88 L105.02 440.52 L105.21 440.32 L106.34 439.83 L106.72 439.75 L118.99 439.75 L119.75 439.78 L120.50 439.88 L121.26 440.05 L122.89 440.48 L123.90 440.69 L124.78 440.79 L125.92 440.84 L181.74 440.84 L182.11 440.88 L182.56 440.98 L183.00 441.14 L183.44 441.38 L184.00 441.77 L186.39 443.70 L221.70 443.70" fill="none" stroke="#ff0000" stroke-width="1.5" stroke-linejoin="round" stroke-linecap="butt" clip-path="url(#clipf)"/>
<rect x="29.5" y="414.2" width="195.7" height="107.1" fill="none" stroke="#8a8a8a" stroke-width="0.55"/>
<path d="M32.90 521.3v-1.6M32.90 414.2v1.6M39.19 521.3v-0.9M39.19 414.2v0.9M45.49 521.3v-0.9M45.49 414.2v0.9M51.78 521.3v-0.9M51.78 414.2v0.9M58.07 521.3v-1.6M58.07 414.2v1.6M64.37 521.3v-0.9M64.37 414.2v0.9M70.66 521.3v-0.9M70.66 414.2v0.9M76.95 521.3v-0.9M76.95 414.2v0.9M83.25 521.3v-1.6M83.25 414.2v1.6M89.54 521.3v-0.9M89.54 414.2v0.9M95.83 521.3v-0.9M95.83 414.2v0.9M102.13 521.3v-0.9M102.13 414.2v0.9M108.42 521.3v-1.6M108.42 414.2v1.6M114.71 521.3v-0.9M114.71 414.2v0.9M121.01 521.3v-0.9M121.01 414.2v0.9M127.30 521.3v-0.9M127.30 414.2v0.9M133.59 521.3v-1.6M133.59 414.2v1.6M139.89 521.3v-0.9M139.89 414.2v0.9M146.18 521.3v-0.9M146.18 414.2v0.9M152.47 521.3v-0.9M152.47 414.2v0.9M158.77 521.3v-1.6M158.77 414.2v1.6M165.06 521.3v-0.9M165.06 414.2v0.9M171.35 521.3v-0.9M171.35 414.2v0.9M177.65 521.3v-0.9M177.65 414.2v0.9M183.94 521.3v-1.6M183.94 414.2v1.6M190.23 521.3v-0.9M190.23 414.2v0.9M196.53 521.3v-0.9M196.53 414.2v0.9M202.82 521.3v-0.9M202.82 414.2v0.9M209.11 521.3v-1.6M209.11 414.2v1.6M215.41 521.3v-0.9M215.41 414.2v0.9M221.70 521.3v-0.9M221.70 414.2v0.9M29.5 520.39h0.9M225.2 520.39h-0.9M29.5 514.90h1.6M225.2 514.90h-1.6M29.5 509.41h0.9M225.2 509.41h-0.9M29.5 503.91h0.9M225.2 503.91h-0.9M29.5 498.42h0.9M225.2 498.42h-0.9M29.5 492.92h1.6M225.2 492.92h-1.6M29.5 487.43h0.9M225.2 487.43h-0.9M29.5 481.94h0.9M225.2 481.94h-0.9M29.5 476.44h0.9M225.2 476.44h-0.9M29.5 470.95h1.6M225.2 470.95h-1.6M29.5 465.46h0.9M225.2 465.46h-0.9M29.5 459.96h0.9M225.2 459.96h-0.9M29.5 454.47h0.9M225.2 454.47h-0.9M29.5 448.98h1.6M225.2 448.98h-1.6M29.5 443.48h0.9M225.2 443.48h-0.9M29.5 437.99h0.9M225.2 437.99h-0.9M29.5 432.49h0.9M225.2 432.49h-0.9M29.5 427.00h1.6M225.2 427.00h-1.6M29.5 421.51h0.9M225.2 421.51h-0.9M29.5 416.01h0.9M225.2 416.01h-0.9" stroke="#8a8a8a" stroke-width="0.6" fill="none"/>
<text x="32.90" y="531.6" text-anchor="middle" font-family="'Liberation Sans', sans-serif" font-size="7.5" fill="#303030" stroke="#303030" stroke-width="0.25">0</text>
<text x="58.07" y="531.6" text-anchor="middle" font-family="'Liberation Sans', sans-serif" font-size="7.5" fill="#303030" stroke="#303030" stroke-width="0.25">200</text>
<text x="83.25" y="531.6" text-anchor="middle" font-family="'Liberation Sans', sans-serif" font-size="7.5" fill="#303030" stroke="#303030" stroke-width="0.25">400</text>
<text x="108.42" y="531.6" text-anchor="middle" font-family="'Liberation Sans', sans-serif" font-size="7.5" fill="#303030" stroke="#303030" stroke-width="0.25">600</text>
<text x="133.59" y="531.6" text-anchor="middle" font-family="'Liberation Sans', sans-serif" font-size="7.5" fill="#303030" stroke="#303030" stroke-width="0.25">800</text>
<text x="158.77" y="531.6" text-anchor="middle" font-family="'Liberation Sans', sans-serif" font-size="7.5" fill="#303030" stroke="#303030" stroke-width="0.25">1000</text>
<text x="183.94" y="531.6" text-anchor="middle" font-family="'Liberation Sans', sans-serif" font-size="7.5" fill="#303030" stroke="#303030" stroke-width="0.25">1200</text>
<text x="209.11" y="531.6" text-anchor="middle" font-family="'Liberation Sans', sans-serif" font-size="7.5" fill="#303030" stroke="#303030" stroke-width="0.25">1400</text>
<text x="27.7" y="517.30" text-anchor="end" font-family="'Liberation Sans', sans-serif" font-size="7.5" fill="#303030" stroke="#303030" stroke-width="0.25">20</text>
<text x="27.7" y="495.32" text-anchor="end" font-family="'Liberation Sans', sans-serif" font-size="7.5" fill="#303030" stroke="#303030" stroke-width="0.25">40</text>
<text x="27.7" y="473.35" text-anchor="end" font-family="'Liberation Sans', sans-serif" font-size="7.5" fill="#303030" stroke="#303030" stroke-width="0.25">60</text>
<text x="27.7" y="451.38" text-anchor="end" font-family="'Liberation Sans', sans-serif" font-size="7.5" fill="#303030" stroke="#303030" stroke-width="0.25">80</text>
<text x="27.7" y="429.40" text-anchor="end" font-family="'Liberation Sans', sans-serif" font-size="7.5" fill="#303030" stroke="#303030" stroke-width="0.25">100</text>
<text x="127.0" y="544.8" text-anchor="middle" font-family="'Liberation Mono', monospace" font-size="6.6" letter-spacing="0.4" fill="#222"><tspan font-weight="bold" stroke="#222" stroke-width="0.15">time</tspan><tspan fill="#777">[</tspan><tspan fill="#222" stroke="#222" stroke-width="0.15">s</tspan><tspan fill="#777">]</tspan></text>
<text transform="translate(10.1 468.1) rotate(-90)" text-anchor="middle" font-family="'Liberation Mono', monospace" font-size="6.6" letter-spacing="0.35" fill="#303030" stroke="#303030" stroke-width="0.3">ATP concentation</text>
<text x="188.9" y="511.5" font-family="'DejaVu Sans', 'Liberation Sans', sans-serif" font-size="23.6" fill="#000">(f)</text>
</g>
<g>
<clipPath id="clipg"><rect x="253.9" y="415.1" width="195.5" height="106.3"/></clipPath>
<path d="M257.70 457.23 L258.08 419.07 L259.77 473.84 L260.47 495.11 L260.97 509.71 L261.22 516.01 L263.17 512.60 L263.67 510.33 L263.92 506.12 L264.11 492.29 L264.18 484.42 L264.49 422.16 L266.38 487.07 L267.07 509.12 L267.32 516.01 L269.08 512.60 L269.58 510.33 L269.83 506.12 L270.02 492.29 L270.08 484.42 L270.40 422.16 L272.10 480.81 L272.98 509.12 L273.23 516.01 L275.18 512.60 L275.68 510.33 L275.93 506.12 L276.12 492.29 L276.18 484.42 L276.50 422.16 L278.26 482.90 L279.07 509.12 L279.33 516.01 L281.27 512.60 L281.78 510.33 L282.03 506.12 L282.22 492.29 L282.28 484.42 L282.60 422.16 L284.42 484.99 L285.17 509.12 L285.42 516.01 L287.37 512.60 L287.88 510.33 L288.13 506.12 L288.32 492.29 L288.38 484.42 L288.69 422.16 L290.58 487.07 L291.27 509.12 L291.52 516.01 L293.47 512.60 L293.97 510.33 L294.23 506.12 L294.41 492.29 L294.48 484.42 L294.79 422.16 L296.30 474.56 L296.93 495.38 L297.37 509.12 L297.62 516.01 L299.57 512.60 L300.07 510.33 L300.32 506.12 L300.51 492.29 L300.58 484.42 L300.89 422.16 L302.27 470.35 L302.90 491.24 L303.47 509.12 L303.72 516.01 L305.67 512.60 L306.17 510.33 L306.42 506.12 L306.61 492.29 L306.67 484.42 L306.99 422.16 L308.37 470.35 L309.06 493.33 L309.56 509.12 L309.82 516.01 L311.77 512.60 L312.27 510.33 L312.52 506.12 L312.71 492.29 L312.77 484.42 L313.09 422.16 L314.78 480.81 L315.66 509.12 L315.91 516.01 L317.86 512.60 L318.37 510.33 L318.62 506.12 L318.81 492.29 L318.87 484.42 L319.18 422.16 L320.94 482.90 L321.76 509.12 L322.01 516.01 L322.83 512.60 L323.33 510.33 L323.58 506.12 L323.77 492.29 L323.84 484.49 L324.15 422.68 L324.21 424.23 L325.22 441.76 L326.22 460.32 L327.04 478.88 L327.29 509.82 L327.54 513.63 L328.36 512.71 L330.00 512.19 L333.20 512.09 L406.88 512.09 L407.70 512.16 L408.58 512.37 L409.15 512.59 L411.53 513.63 L446.30 513.63" fill="none" stroke="#ff0000" stroke-width="1.5" stroke-linejoin="round" stroke-linecap="butt" clip-path="url(#clipg)"/>
<rect x="253.9" y="415.1" width="195.5" height="106.3" fill="none" stroke="#8a8a8a" stroke-width="0.55"/>
<path d="M257.70 521.4v-1.6M257.70 415.1v1.6M263.99 521.4v-0.9M263.99 415.1v0.9M270.27 521.4v-0.9M270.27 415.1v0.9M276.56 521.4v-0.9M276.56 415.1v0.9M282.85 521.4v-1.6M282.85 415.1v1.6M289.13 521.4v-0.9M289.13 415.1v0.9M295.42 521.4v-0.9M295.42 415.1v0.9M301.71 521.4v-0.9M301.71 415.1v0.9M307.99 521.4v-1.6M307.99 415.1v1.6M314.28 521.4v-0.9M314.28 415.1v0.9M320.57 521.4v-0.9M320.57 415.1v0.9M326.85 521.4v-0.9M326.85 415.1v0.9M333.14 521.4v-1.6M333.14 415.1v1.6M339.43 521.4v-0.9M339.43 415.1v0.9M345.71 521.4v-0.9M345.71 415.1v0.9M352.00 521.4v-0.9M352.00 415.1v0.9M358.29 521.4v-1.6M358.29 415.1v1.6M364.57 521.4v-0.9M364.57 415.1v0.9M370.86 521.4v-0.9M370.86 415.1v0.9M377.15 521.4v-0.9M377.15 415.1v0.9M383.43 521.4v-1.6M383.43 415.1v1.6M389.72 521.4v-0.9M389.72 415.1v0.9M396.01 521.4v-0.9M396.01 415.1v0.9M402.29 521.4v-0.9M402.29 415.1v0.9M408.58 521.4v-1.6M408.58 415.1v1.6M414.87 521.4v-0.9M414.87 415.1v0.9M421.15 521.4v-0.9M421.15 415.1v0.9M427.44 521.4v-0.9M427.44 415.1v0.9M433.73 521.4v-1.6M433.73 415.1v1.6M440.01 521.4v-0.9M440.01 415.1v0.9M446.30 521.4v-0.9M446.30 415.1v0.9M253.9 518.07h0.9M449.4 518.07h-0.9M253.9 512.91h0.9M449.4 512.91h-0.9M253.9 507.76h0.9M449.4 507.76h-0.9M253.9 502.60h1.6M449.4 502.60h-1.6M253.9 497.44h0.9M449.4 497.44h-0.9M253.9 492.29h0.9M449.4 492.29h-0.9M253.9 487.13h0.9M449.4 487.13h-0.9M253.9 481.98h1.6M449.4 481.98h-1.6M253.9 476.82h0.9M449.4 476.82h-0.9M253.9 471.66h0.9M449.4 471.66h-0.9M253.9 466.51h0.9M449.4 466.51h-0.9M253.9 461.35h1.6M449.4 461.35h-1.6M253.9 456.19h0.9M449.4 456.19h-0.9M253.9 451.04h0.9M449.4 451.04h-0.9M253.9 445.88h0.9M449.4 445.88h-0.9M253.9 440.73h1.6M449.4 440.73h-1.6M253.9 435.57h0.9M449.4 435.57h-0.9M253.9 430.41h0.9M449.4 430.41h-0.9M253.9 425.26h0.9M449.4 425.26h-0.9M253.9 420.10h1.6M449.4 420.10h-1.6" stroke="#8a8a8a" stroke-width="0.6" fill="none"/>
<text x="257.70" y="531.6" text-anchor="middle" font-family="'Liberation Sans', sans-serif" font-size="7.5" fill="#303030" stroke="#303030" stroke-width="0.25">0</text>
<text x="282.85" y="531.6" text-anchor="middle" font-family="'Liberation Sans', sans-serif" font-size="7.5" fill="#303030" stroke="#303030" stroke-width="0.25">200</text>
<text x="307.99" y="531.6" text-anchor="middle" font-family="'Liberation Sans', sans-serif" font-size="7.5" fill="#303030" stroke="#303030" stroke-width="0.25">400</text>
<text x="333.14" y="531.6" text-anchor="middle" font-family="'Liberation Sans', sans-serif" font-size="7.5" fill="#303030" stroke="#303030" stroke-width="0.25">600</text>
<text x="358.29" y="531.6" text-anchor="middle" font-family="'Liberation Sans', sans-serif" font-size="7.5" fill="#303030" stroke="#303030" stroke-width="0.25">800</text>
<text x="383.43" y="531.6" text-anchor="middle" font-family="'Liberation Sans', sans-serif" font-size="7.5" fill="#303030" stroke="#303030" stroke-width="0.25">1000</text>
<text x="408.58" y="531.6" text-anchor="middle" font-family="'Liberation Sans', sans-serif" font-size="7.5" fill="#303030" stroke="#303030" stroke-width="0.25">1200</text>
<text x="433.73" y="531.6" text-anchor="middle" font-family="'Liberation Sans', sans-serif" font-size="7.5" fill="#303030" stroke="#303030" stroke-width="0.25">1400</text>
<text x="252.1" y="505.00" text-anchor="end" font-family="'Liberation Sans', sans-serif" font-size="7.5" fill="#303030" stroke="#303030" stroke-width="0.25">20</text>
<text x="252.1" y="484.38" text-anchor="end" font-family="'Liberation Sans', sans-serif" font-size="7.5" fill="#303030" stroke="#303030" stroke-width="0.25">40</text>
<text x="252.1" y="463.75" text-anchor="end" font-family="'Liberation Sans', sans-serif" font-size="7.5" fill="#303030" stroke="#303030" stroke-width="0.25">60</text>
<text x="252.1" y="443.12" text-anchor="end" font-family="'Liberation Sans', sans-serif" font-size="7.5" fill="#303030" stroke="#303030" stroke-width="0.25">80</text>
<text x="252.1" y="422.50" text-anchor="end" font-family="'Liberation Sans', sans-serif" font-size="7.5" fill="#303030" stroke="#303030" stroke-width="0.25">100</text>
<text x="351.3" y="544.8" text-anchor="middle" font-family="'Liberation Mono', monospace" font-size="6.6" letter-spacing="0.4" fill="#222"><tspan font-weight="bold" stroke="#222" stroke-width="0.15">time</tspan><tspan fill="#777">[</tspan><tspan fill="#222" stroke="#222" stroke-width="0.15">s</tspan><tspan fill="#777">]</tspan></text>
<text transform="translate(233.8 468.6) rotate(-90)" text-anchor="middle" font-family="'Liberation Mono', monospace" font-size="6.6" letter-spacing="0.35" fill="#303030" stroke="#303030" stroke-width="0.3">ADP concentation</text>
<text x="410.4" y="445.7" font-family="'DejaVu Sans', 'Liberation Sans', sans-serif" font-size="23.6" fill="#000">(g)</text>
</g>
</svg>
</body></html>
